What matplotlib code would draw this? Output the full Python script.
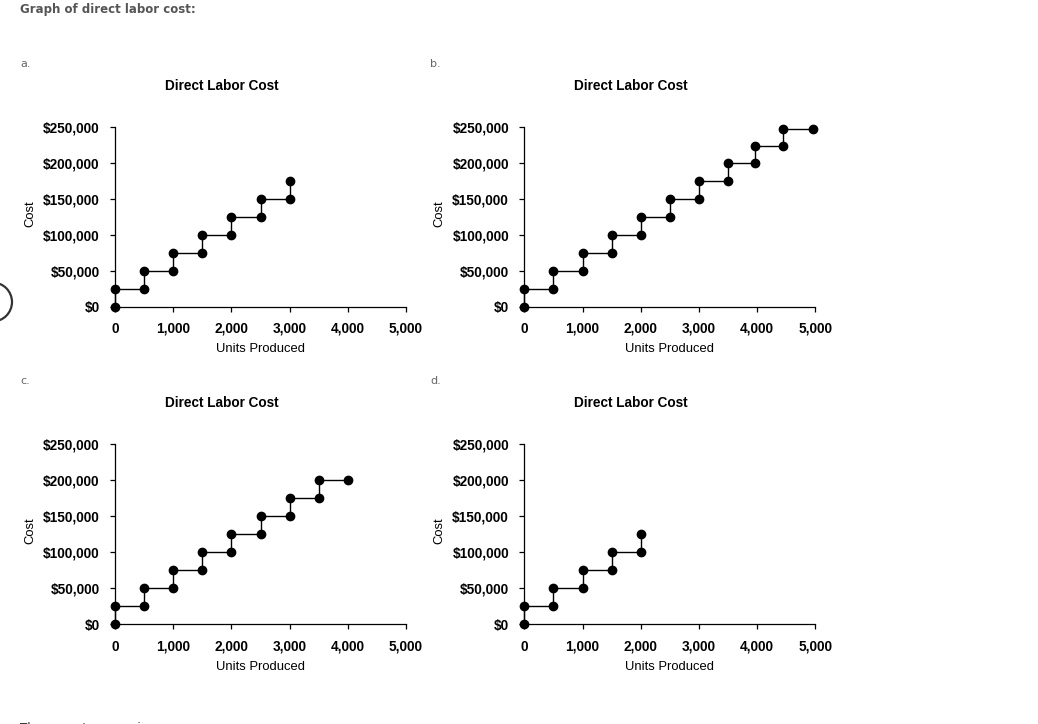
import matplotlib.pyplot as plt
from matplotlib.patches import Circle
from matplotlib.transforms import IdentityTransform
from matplotlib.ticker import FuncFormatter

plt.rcParams["font.family"] = ["Liberation Sans", "DejaVu Sans"]

W, H = 1038, 724

# Step data for each option (units produced, direct labor cost)
a_units = [0, 0, 500, 500, 1000, 1000, 1500, 1500, 2000, 2000, 2500, 2500, 3000, 3000]
a_cost = [0, 25000, 25000, 50000, 50000, 75000, 75000, 100000, 100000,
          125000, 125000, 150000, 150000, 175000]

b_units = [0, 0, 500, 500, 1000, 1000, 1500, 1500, 2000, 2000, 2500, 2500,
           3000, 3000, 3500, 3500, 3960, 3960, 4450, 4450, 4960]
b_cost = [0, 25000, 25000, 50000, 50000, 75000, 75000, 100000, 100000,
          125000, 125000, 150000, 150000, 175000, 175000, 200000, 200000,
          223500, 223500, 247500, 247500]

c_units = [0, 0, 500, 500, 1000, 1000, 1500, 1500, 2000, 2000, 2500, 2500,
           3000, 3000, 3500, 3500, 4000]
c_cost = [0, 25000, 25000, 50000, 50000, 75000, 75000, 100000, 100000,
          125000, 125000, 150000, 150000, 175000, 175000, 200000, 200000]

d_units = [0, 0, 500, 500, 1000, 1000, 1500, 1500, 2000, 2000]
d_cost = [0, 25000, 25000, 50000, 50000, 75000, 75000, 100000, 100000, 125000]

x_ticks = [0, 1000, 2000, 3000, 4000, 5000]
y_ticks = [0, 50000, 100000, 150000, 200000, 250000]


def fx(px):
    return px / W


def fy(py):
    return 1 - py / H


fig = plt.figure(figsize=(W / 100, H / 100), dpi=100)

fig.text(fx(20), fy(3.5), "Graph of direct labor cost:", family="DejaVu Sans",
         fontweight="bold", fontsize=8.5, color="#555555", va="top", ha="left")
# sentence under the charts, cut off by the lower edge as in the page capture
fig.text(fx(20), fy(721.5), "The correct answer is", family="DejaVu Sans",
         fontsize=8.5, color="#333333", va="top", ha="left")

# partly hidden circle on left edge (pixel coordinates)
fig.patches.append(Circle((-7.5, H - 302), 19.5, transform=IdentityTransform(),
                          fill=False, edgecolor="#333333", linewidth=1.6,
                          figure=fig))

panels = [
    ("a.", a_units, a_cost, 115, 406, 127.3, 306.7, 20, 64),
    ("b.", b_units, b_cost, 524.3, 815.3, 127.3, 306.7, 430, 64),
    ("c.", c_units, c_cost, 115, 406, 444.3, 624.3, 20, 381),
    ("d.", d_units, d_cost, 524.3, 815.3, 444.3, 624.3, 430, 381),
]

for label, units, cost, left, right, top, bottom, lx, ly in panels:
    ax = fig.add_axes([fx(left), fy(bottom), fx(right - left), (bottom - top) / H])
    ax.plot(units, cost, color="black", linewidth=1.0, marker="o",
            markersize=6, markerfacecolor="black", markeredgecolor="black",
            clip_on=False, zorder=3)
    ax.set_xlim(0, 5000)
    ax.set_ylim(0, 250000)
    ax.set_xticks(x_ticks)
    ax.set_yticks(y_ticks)
    ax.xaxis.set_major_formatter(FuncFormatter(lambda v, p: f"{int(v):,}"))
    ax.yaxis.set_major_formatter(FuncFormatter(lambda v, p: f"${int(v):,}"))
    for s in ["top", "right"]:
        ax.spines[s].set_visible(False)
    for s in ["left", "bottom"]:
        ax.spines[s].set_linewidth(0.9)
    ax.tick_params(axis="both", direction="out", length=3.5, width=0.9,
                   labelsize=9.8, pad=7.5)
    for t in ax.get_xticklabels() + ax.get_yticklabels():
        t.set_fontweight("bold")

    cx = (left + right) / 2
    fig.text(fx(lx), fy(ly), label, family="DejaVu Sans", fontsize=8,
             color="#666666", va="center", ha="left")
    fig.text(fx(left + 107), fy(top - 41), "Direct Labor Cost", fontweight="bold",
             fontsize=9.8, ha="center", va="center")
    fig.text(fx(cx), fy(bottom + 42.5), "Units Produced", fontsize=9.4,
             ha="center", va="center")
    fig.text(fx(left - 85), fy((top + bottom) / 2 - 3.5), "Cost", fontsize=9.4,
             rotation=90, ha="center", va="center")

plt.savefig("out.png", dpi=100)
